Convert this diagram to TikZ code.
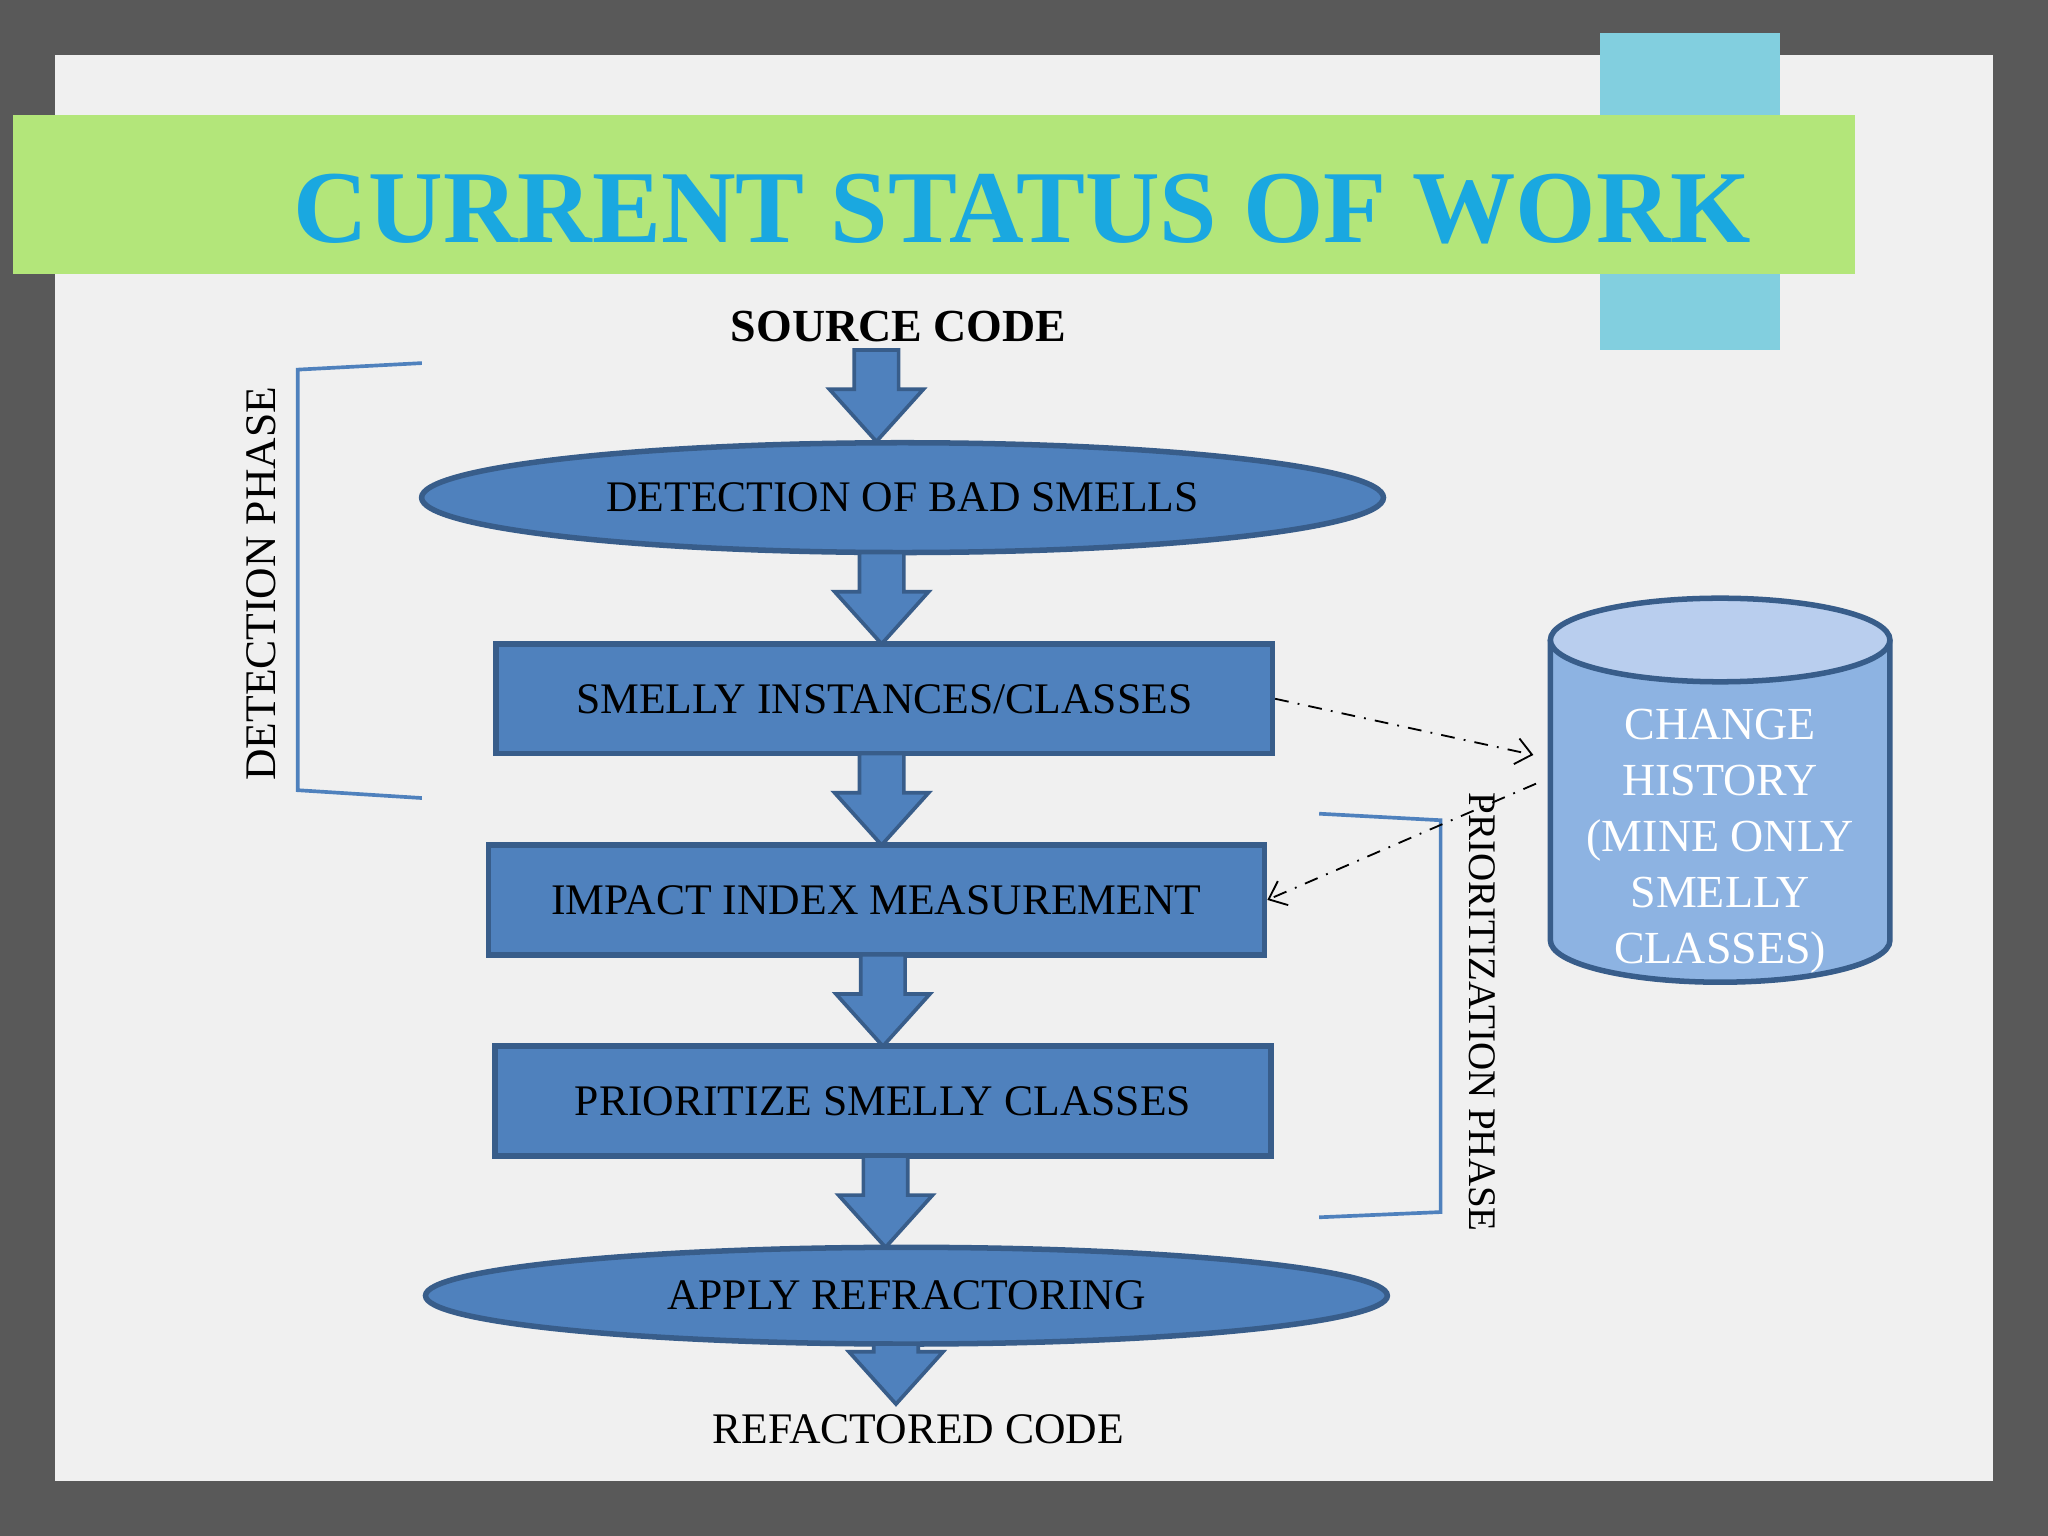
\documentclass[tikz,border=0pt]{standalone}
\usepackage{fontspec}
\setmainfont{Liberation Serif}
\usetikzlibrary{positioning,arrows.meta,shapes.geometric}
\definecolor{slideblue}{HTML}{4F81BD}
\definecolor{darkblue}{HTML}{385D8A}
\definecolor{cylblue}{HTML}{8DB3E2}
\definecolor{cyltop}{HTML}{B9CEEE}
\definecolor{bannergreen}{HTML}{B3E67A}
\definecolor{tabteal}{HTML}{82CFDF}
\definecolor{titlecyan}{HTML}{1AA8E0}
\tikzset{
  stepbox/.style={draw=darkblue,very thick,fill=slideblue,minimum width=5.94cm,minimum height=0.84cm,font=\fontsize{9.5}{11}\selectfont},
  stepoval/.style={ellipse,draw=darkblue,very thick,fill=slideblue,minimum width=7.36cm,inner sep=0pt,font=\fontsize{9.5}{11}\selectfont},
  bracket/.style={draw=slideblue,thick},
  link/.style={thin,dash dot,-{Straight Barb[length=1.2mm,width=2mm]}},
}
% fat down arrow: x, top y, bottom y
\newcommand{\blockarrow}[3]{%
  \filldraw[fill=slideblue,draw=darkblue,thick]
    (#1-17,#2) -- (#1+17,#2) -- (#1+17,#3-40) -- (#1+36,#3-40) -- (#1,#3)
    -- (#1-36,#3-40) -- (#1-17,#3-40) -- cycle;}
\begin{document}
\begin{tikzpicture}[x=0.01cm,y=-0.01cm]
\useasboundingbox (0,0) rectangle (1568,1176);
% background
\fill[black!65] (0,0) rectangle (1568,1176);
\fill[gray!12] (42,42) rectangle (1526,1134);
\fill[tabteal] (1225,25) rectangle (1363,268);
\fill[bannergreen] (10,88) rectangle (1420,210);
\node[font=\fontsize{22.5}{27}\selectfont\bfseries,text=titlecyan] (title) at (783,160) {CURRENT STATUS OF WORK};

\node[font=\fontsize{10}{12}\selectfont\bfseries] (src) at (688,250) {SOURCE CODE};
\blockarrow{671}{268}{338}
\node[stepoval,minimum height=0.84cm] (detect) at (691,381) {DETECTION OF BAD SMELLS};
\blockarrow{675}{423}{493}
\node[stepbox] (smelly) at (677,535) {SMELLY INSTANCES/CLASSES};
\blockarrow{675}{577}{647}
\node[stepbox] (impact) at (671,689) {IMPACT INDEX MEASUREMENT};
\blockarrow{676}{731}{801}
\node[stepbox] (prio) at (676,843) {PRIORITIZE SMELLY CLASSES};
\blockarrow{678}{885}{955}
\node[stepoval,minimum height=0.74cm] (apply) at (694,992) {APPLY REFRACTORING};
\blockarrow{686}{1029}{1075}
\node[font=\fontsize{9.5}{11}\selectfont] (out) at (703,1094) {REFACTORED CODE};

% phase brackets
\draw[bracket] (323,278) -- (228,283) -- (228,605) -- (323,611);
\node[rotate=90,font=\fontsize{9.5}{11}\selectfont] (dphase) at (200,447) {DETECTION PHASE};
\draw[bracket] (1010,623) -- (1103,628) -- (1103,928) -- (1010,932);
\node[rotate=-90,font=\fontsize{8.5}{10}\selectfont] (pphase) at (1135,775) {PRIORITIZATION PHASE};

% change history store
\filldraw[fill=cylblue,draw=darkblue,very thick] (1187,490) -- (1187,720) arc[start angle=180,end angle=0,x radius=130,y radius=32] -- (1447,490);
\filldraw[fill=cyltop,draw=darkblue,very thick] (1317,490) ellipse[x radius=130,y radius=32];
\node[align=center,text=white,font=\fontsize{10}{12.2}\selectfont] (hist) at (1317,644)
  {CHANGE\\HISTORY\\(MINE ONLY\\SMELLY\\CLASSES)};
\coordinate (histin) at (1174,578);
\coordinate (histout) at (1176,600);
\draw[link] (smelly.east) -- (histin);
\draw[link] (histout) -- (impact.east);
\end{tikzpicture}
\end{document}
